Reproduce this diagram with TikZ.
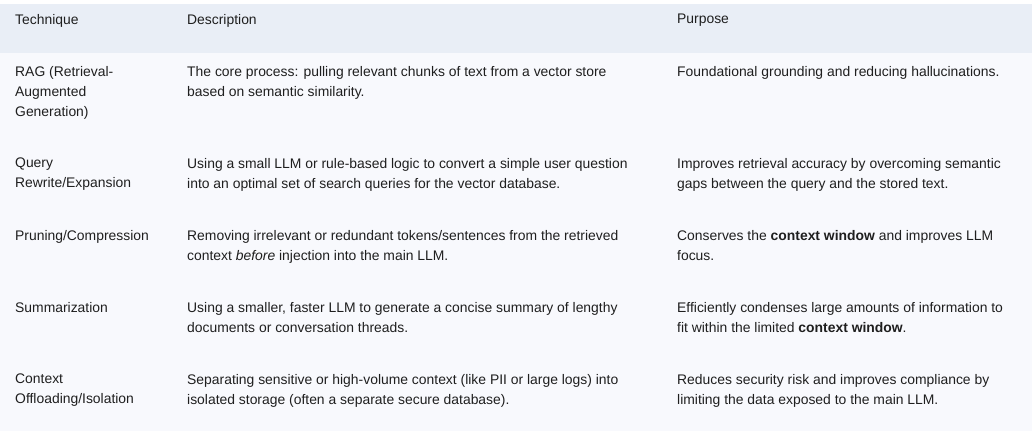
\documentclass[tikz,border=0pt]{standalone}
\usepackage{fontspec}
\setmainfont{Liberation Sans}
\definecolor{hdr}{HTML}{E9EEF6}
\definecolor{bdy}{HTML}{F8F9FD}
\definecolor{txt}{HTML}{1F1F1F}
\begin{document}
\begin{tikzpicture}[x=1bp,y=-1bp,
  cell/.style={anchor=north west,inner sep=0pt,align=left,text=txt,
    font=\fontsize{13.9bp}{20bp}\selectfont}]
\useasboundingbox (0,0) rectangle (1032,431);
\fill[white] (0,0) rectangle (1032,431);
\fill[bdy] (0,53) rectangle (1032,431);
\fill[hdr] (0,4) rectangle (1032,53);
\node[cell] (h1) at (15,14) {Technique};
\node[cell] (h2) at (187,14) {Description};
\node[cell] (h3) at (677,14) {Purpose};
\node[cell] (a1) at (15,66) {RAG (Retrieval-\\Augmented\\Generation)};
\node[cell] (a2) at (187,66) {The core process: pulling relevant chunks of text from a vector store\\based on semantic similarity.};
\node[cell] (a3) at (677,66) {Foundational grounding and reducing hallucinations.};
\node[cell] (b1) at (15,158) {Query\\Rewrite/Expansion};
\node[cell] (b2) at (187,158) {Using a small LLM or rule-based logic to convert a simple user question\\into an optimal set of search queries for the vector database.};
\node[cell] (b3) at (677,158) {Improves retrieval accuracy by overcoming semantic\\gaps between the query and the stored text.};
\node[cell] (c1) at (15,230) {Pruning/Compression};
\node[cell] (c2) at (187,230) {Removing irrelevant or redundant tokens/sentences from the retrieved\\context \textit{before} injection into the main LLM.};
\node[cell] (c3) at (677,230) {Conserves the \textbf{context window} and improves LLM\\focus.};
\node[cell] (d1) at (15,302) {Summarization};
\node[cell] (d2) at (187,302) {Using a smaller, faster LLM to generate a concise summary of lengthy\\documents or conversation threads.};
\node[cell] (d3) at (677,302) {Efficiently condenses large amounts of information to\\fit within the limited \textbf{context window}.};
\node[cell] (e1) at (15,374) {Context\\Offloading/Isolation};
\node[cell] (e2) at (187,374) {Separating sensitive or high-volume context (like PII or large logs) into\\isolated storage (often a separate secure database).};
\node[cell] (e3) at (677,374) {Reduces security risk and improves compliance by\\limiting the data exposed to the main LLM.};
\end{tikzpicture}
\end{document}
